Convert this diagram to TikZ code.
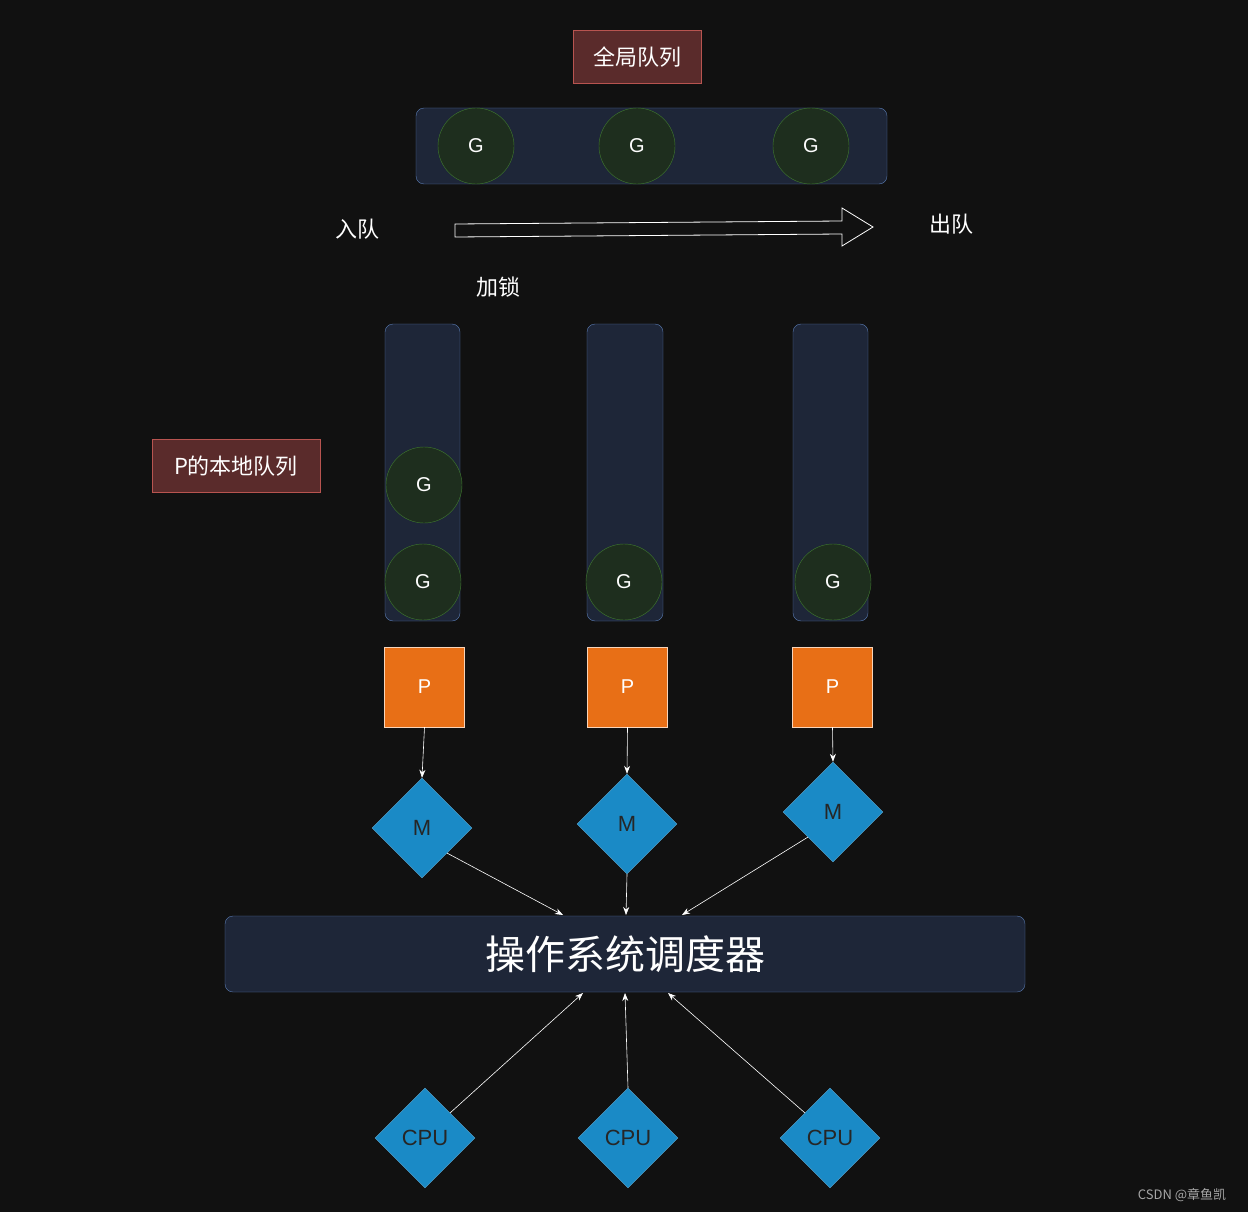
\documentclass[tikz,border=0pt]{standalone}
\usepackage{fontspec}
\setmainfont{Liberation Sans}
\newfontfamily\cjk{Noto Sans CJK SC}
\usetikzlibrary{shapes.geometric,arrows.meta}
\definecolor{bg}{HTML}{111111}
\definecolor{qfill}{HTML}{1E2638}
\definecolor{qline}{HTML}{5A7DB5}
\definecolor{gfill}{HTML}{1E2E1E}
\definecolor{gline}{HTML}{3F7A2E}
\definecolor{pfill}{HTML}{E86F16}
\definecolor{dfill}{HTML}{1A8AC6}
\definecolor{lfill}{HTML}{5A2B2B}
\definecolor{lline}{HTML}{B85450}
\begin{document}
\begin{tikzpicture}[x=1pt,y=-1pt,
 q/.style={draw=qline,fill=qfill,rounded corners=8pt},
 g/.style={circle,draw=gline,fill=gfill,minimum size=76pt,inner sep=0pt,text=white,font=\fontsize{20}{24}\selectfont},
 p/.style={draw=white!70!pfill,fill=pfill,minimum size=80pt,inner sep=0pt,text=white,font=\fontsize{20}{24}\selectfont},
 d/.style={diamond,draw=dfill!70!white,fill=dfill,minimum size=100pt,inner sep=0pt,text=black!85,font=\fontsize{22}{26}\selectfont},
 lab/.style={draw=lline,fill=lfill,text=white,inner sep=4pt,font=\cjk\fontsize{22}{26}\selectfont},
 t/.style={text=white,font=\cjk\fontsize{22}{26}\selectfont},
 ar/.style={draw=white,-{Stealth[length=8pt,width=6pt]},line width=0.6pt}]
\fill[bg] (0,0) rectangle (1248,1212);
\useasboundingbox (0,0) rectangle (1248,1212);
\node[lab,minimum width=128pt,minimum height=53pt] (gl) at (637,57) {全局队列};
\node[lab,minimum width=168pt,minimum height=53pt] (pl) at (236,466) {P的本地队列};
\node[q,minimum width=471pt,minimum height=76pt] (gq) at (651.5,146) {};
\node[g] (g1) at (476,146) {G};
\node[g] (g2) at (637,146) {G};
\node[g] (g3) at (811,146) {G};
\draw[white,line width=0.8pt] (455,224)--(842,221)--(842,208)--(873,227)--(842,246)--(842,234)--(455,237)--cycle;
\node[t] (in) at (357,229) {入队};
\node[t] (out) at (951,224) {出队};
\node[t] (lock) at (498,287) {加锁};
\node[q,minimum width=75pt,minimum height=297pt] (c1) at (422.5,472.5) {};
\node[q,minimum width=76pt,minimum height=297pt] (c2) at (625,472.5) {};
\node[q,minimum width=75pt,minimum height=297pt] (c3) at (830.5,472.5) {};
\node[g] (g4) at (424,485) {G};
\node[g] (g5) at (423,582) {G};
\node[g] (g6) at (624,582) {G};
\node[g] (g7) at (833,582) {G};
\node[p] (p1) at (424.5,687) {P};
\node[p] (p2) at (627.5,687) {P};
\node[p] (p3) at (832.5,687) {P};
\node[d] (m1) at (422,828) {M};
\node[d] (m2) at (627,824) {M};
\node[d] (m3) at (833,812) {M};
\node[q,minimum width=800pt,minimum height=76pt,text=white,font=\cjk\fontsize{40}{46}\selectfont] (os) at (625,954) {操作系统调度器};
\node[d] (cpu1) at (425,1138) {CPU};
\node[d] (cpu2) at (628,1138) {CPU};
\node[d] (cpu3) at (830,1138) {CPU};
\draw[ar] (p1.south) -- (m1.north);
\draw[ar] (p2.south) -- (m2.north);
\draw[ar] (p3.south) -- (m3.north);
\coordinate (a1) at (563,915);
\coordinate (a2) at (626,915);
\coordinate (a3) at (682,915);
\draw[ar] (m1.south east) -- (a1);
\draw[ar] (m2.south) -- (a2);
\draw[ar] (m3.south west) -- (a3);
\coordinate (b1) at (583,993);
\coordinate (b2) at (625,993);
\coordinate (b3) at (668,993);
\draw[ar] (cpu1.north east) -- (b1);
\draw[ar] (cpu2.north) -- (b2);
\draw[ar] (cpu3.north west) -- (b3);
\node[text=gray!70,font=\cjk\fontsize{13}{15}\selectfont] (wm) at (1182,1195) {CSDN @章鱼凯};
\end{tikzpicture}
\end{document}
